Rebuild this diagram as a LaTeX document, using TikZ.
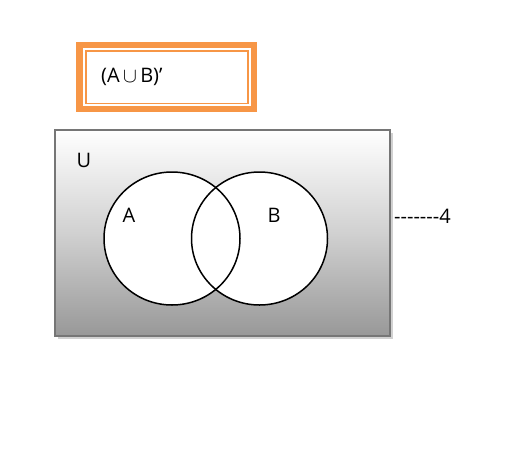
\documentclass[tikz,border=0pt]{standalone}
\usepackage{fontspec}
\setmainfont{Open Sans}
\usetikzlibrary{shapes.geometric,shadows}
\definecolor{setorange}{RGB}{247,150,70}
\definecolor{framegray}{RGB}{118,118,118}
\definecolor{shadegray}{RGB}{152,152,152}
\begin{document}
\begin{tikzpicture}
    [%%%%%%%%%%%%%%%%%%%%%%%%%%%%%%
        x=1pt, y=-1pt,
        every node/.style={font=\fontsize{20}{24}\selectfont, inner sep=0pt},
        titlebox/.style={rectangle, draw=setorange, line width=6.5pt, minimum width=174.5pt, minimum height=64pt},
        innerbox/.style={rectangle, draw=setorange, line width=1.5pt, minimum width=162pt, minimum height=52.5pt},
        universe/.style={rectangle, draw=framegray, line width=2pt, minimum width=335pt, minimum height=206pt,
            top color=white, bottom color=shadegray, middle color=white!55!shadegray,
            drop shadow={shadow xshift=3pt, shadow yshift=-3pt, fill=black!18, opacity=1}},
        setfill/.style={ellipse, fill=white, minimum width=136pt, minimum height=133pt},
        setline/.style={ellipse, draw=black, line width=1.5pt, minimum width=136pt, minimum height=133pt},
    ]%%%%%%%%%%%%%%%%%%%%%%%%%%%%%%
\useasboundingbox (0,0) rectangle (532,466);

\node[titlebox] (title) at (166.75,77){};
\node[innerbox] (titlein) at (167,77.25){};
\node[anchor=west] (expr) at (101,77){(A\,$\cup$\,B)’};

\node[universe] (U) at (222.5,233){};
\node (Ulabel) at (84,160){U};

\foreach \n/\x in {A/172,B/259.5}
    \node[setfill] (\n) at (\x,238.5){};
\foreach \n/\x in {A/172,B/259.5}
    \node[setline] (\n line) at (\x,238.5){};

\node (Alabel) at (129,215){A};
\node (Blabel) at (274,215){B};

\node[anchor=west] (count) at (394,216){-{}-{}-{}-{}-{}-{}-{}4};
\end{tikzpicture}
\end{document}
